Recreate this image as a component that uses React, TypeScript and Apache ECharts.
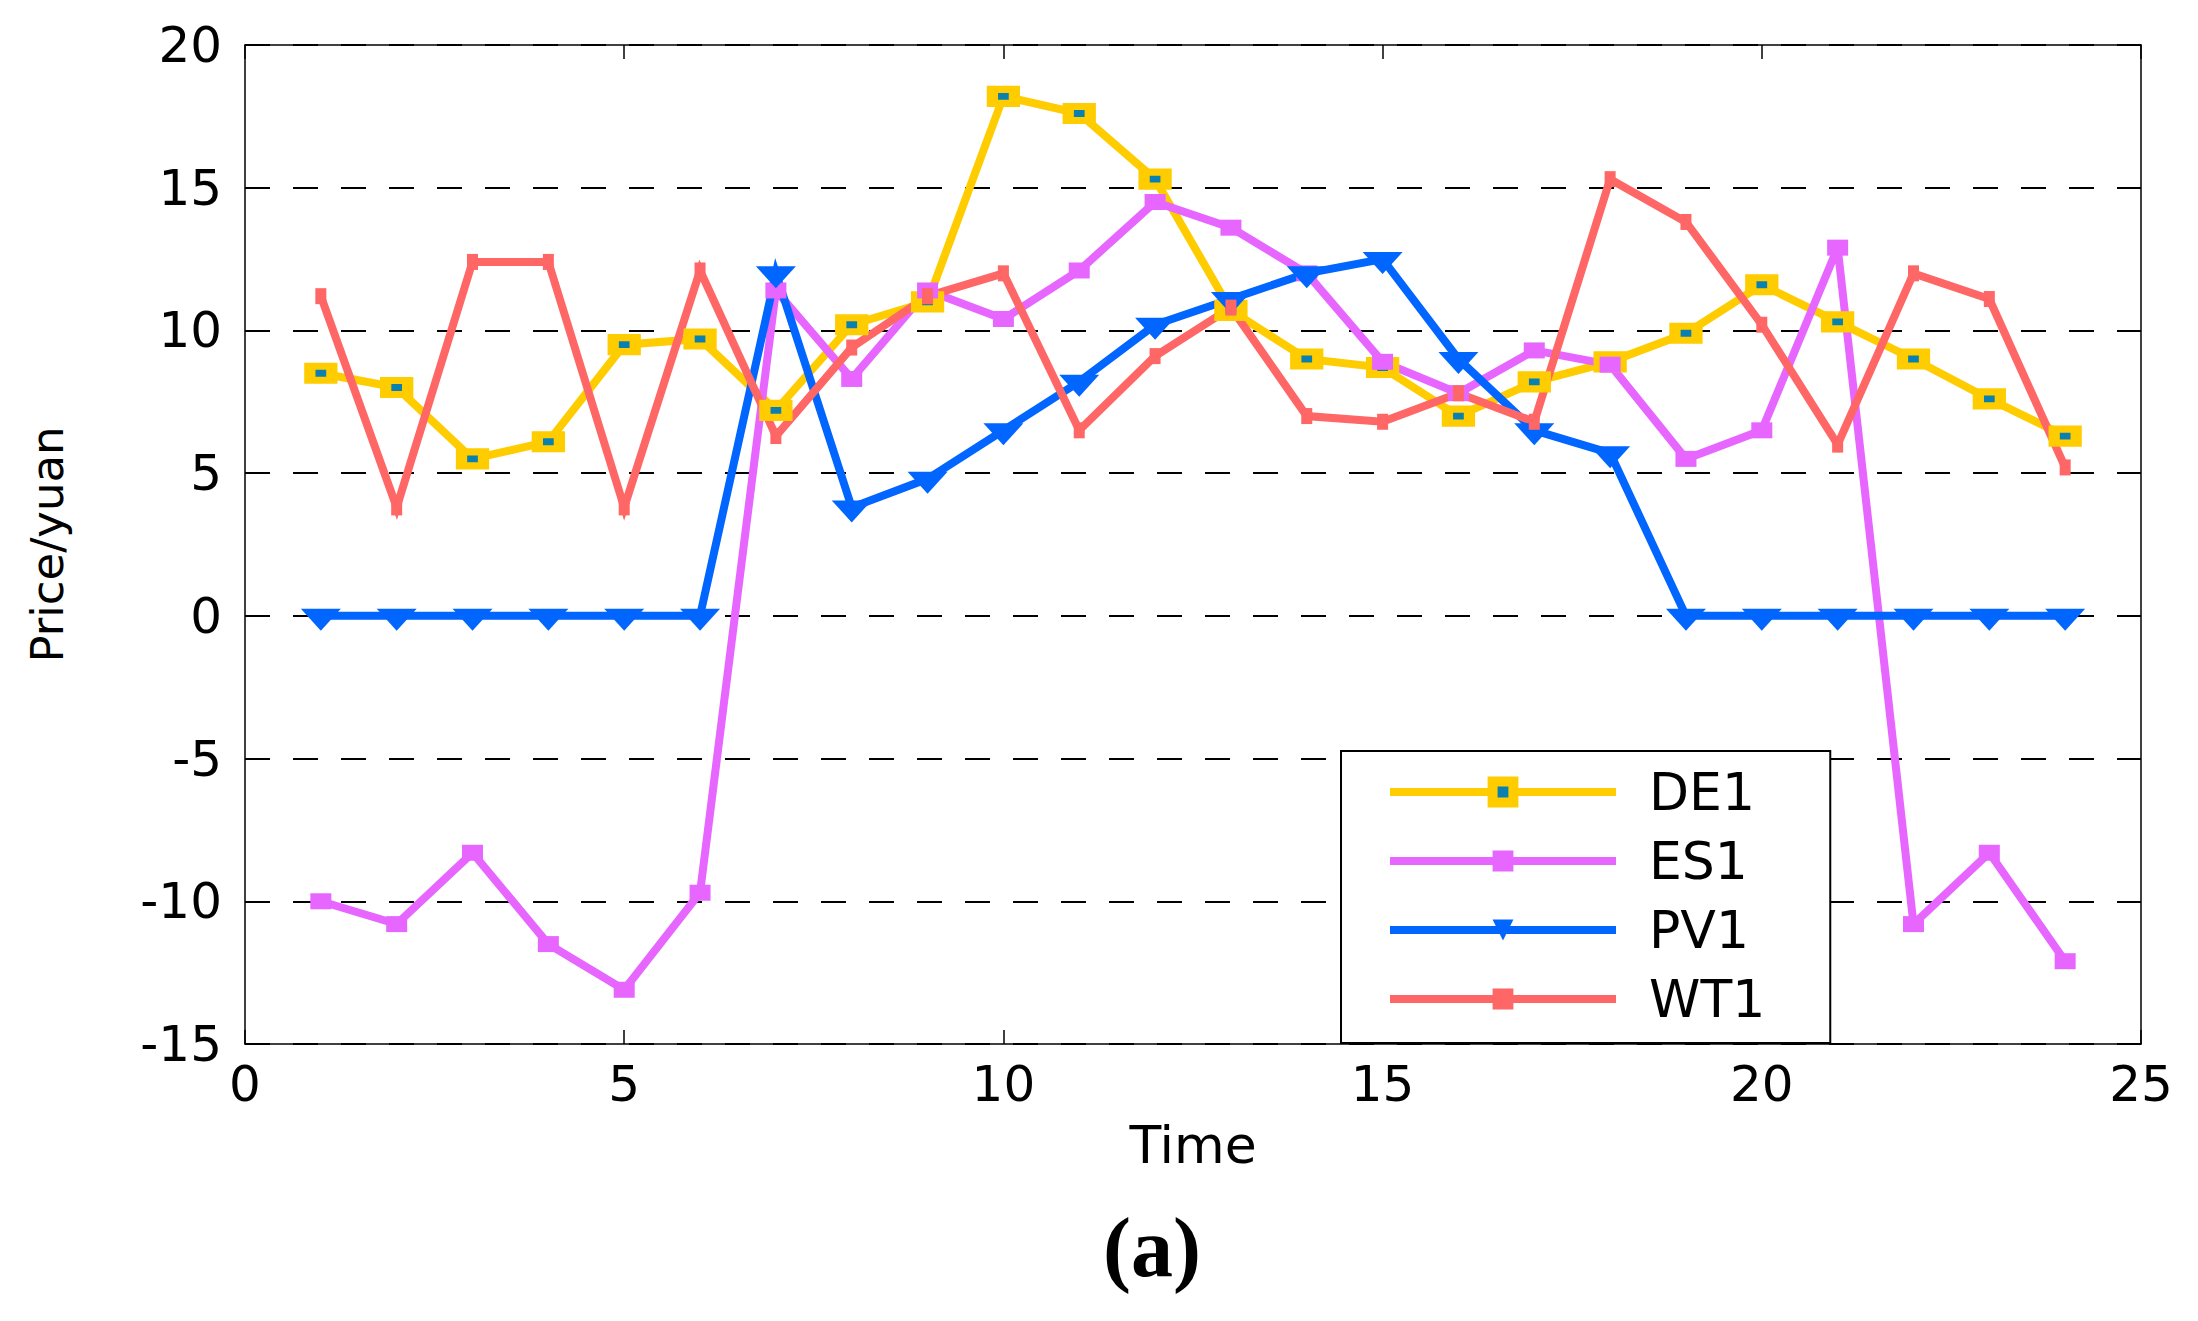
import React, { useEffect, useRef } from "react";
import * as echarts from "echarts";

// ---- data ----
const TIME = [1, 2, 3, 4, 5, 6, 7, 8, 9, 10, 11, 12, 13, 14, 15, 16, 17, 18, 19, 20, 21, 22, 23, 24];
const DE1 = [8.5, 8.0, 5.5, 6.1, 9.5, 9.7, 7.2, 10.2, 11.0, 18.2, 17.6, 15.3, 10.7, 9.0, 8.7, 7.0, 8.2, 8.9, 9.9, 11.6, 10.3, 9.0, 7.6, 6.3];
const ES1 = [-10.0, -10.8, -8.3, -11.5, -13.1, -9.7, 11.4, 8.3, 11.4, 10.4, 12.1, 14.5, 13.6, 12.0, 8.9, 7.8, 9.3, 8.8, 5.5, 6.5, 12.9, -10.8, -8.3, -12.1];
const PV1 = [0, 0, 0, 0, 0, 0, 12.0, 3.8, 4.8, 6.5, 8.2, 10.2, 11.1, 12.0, 12.5, 9.0, 6.5, 5.7, 0, 0, 0, 0, 0, 0];
const WT1 = [11.2, 3.8, 12.4, 12.4, 3.8, 12.1, 6.3, 9.4, 11.2, 12.0, 6.5, 9.1, 10.8, 7.0, 6.8, 7.8, 6.8, 15.3, 13.8, 10.2, 6.0, 12.0, 11.1, 5.2];
const SERIES_NAMES = ["DE1", "ES1", "PV1", "WT1"];
const X_RANGE = [0, 25, 5]; // min, max, interval
const Y_RANGE = [-15, 20, 5];
const X_TITLE = "Time";
const Y_TITLE = "Price/yuan";
const PANEL_LABEL = "(a)";

export default function App() {
  const ref = useRef<HTMLDivElement>(null);

  useEffect(() => {
    if (!ref.current) return;
    const chart = echarts.init(ref.current, null, { renderer: "svg" });
    const font = "DejaVu Sans";
    const pair = (vals: number[]) => TIME.map((t, i) => [t, vals[i]]);
    const frameLine = { show: true, onZero: false, lineStyle: { color: "#000", width: 1.5 } };
    const tick = { show: true, inside: true, length: 14, lineStyle: { color: "#000", width: 1.5 } };
    const lineCommon = {
      type: "line",
      showSymbol: true,
      showAllSymbol: true,
      emphasis: { disabled: true },
      xAxisIndex: 0,
      yAxisIndex: 0,
    };

    chart.setOption({
      animation: false,
      backgroundColor: "#fff",
      grid: { left: 245, right: 57, top: 45, bottom: 277, containLabel: false },
      xAxis: [
        {
          type: "value",
          position: "bottom",
          min: X_RANGE[0],
          max: X_RANGE[1],
          interval: X_RANGE[2],
          axisLine: frameLine,
          axisTick: tick,
          axisLabel: { margin: 15, fontSize: 50, lineHeight: 50, fontFamily: font, color: "#000" },
          splitLine: { show: false },
          name: X_TITLE,
          nameLocation: "middle",
          nameGap: 75,
          nameTextStyle: { fontSize: 52, lineHeight: 52, fontFamily: font, color: "#000" },
        },
        {
          type: "value",
          position: "top",
          min: X_RANGE[0],
          max: X_RANGE[1],
          interval: X_RANGE[2],
          axisLine: frameLine,
          axisTick: tick,
          axisLabel: { show: false },
          splitLine: { show: false },
        },
      ],
      yAxis: [
        {
          type: "value",
          position: "left",
          min: Y_RANGE[0],
          max: Y_RANGE[1],
          interval: Y_RANGE[2],
          axisLine: frameLine,
          axisTick: tick,
          axisLabel: { margin: 23, fontSize: 50, lineHeight: 50, fontFamily: font, color: "#000" },
          splitLine: { show: true, lineStyle: { color: "#000", width: 2, type: [25, 23] } },
          name: Y_TITLE,
          nameLocation: "middle",
          nameRotate: 90,
          nameGap: 176,
          nameTextStyle: { fontSize: 45, lineHeight: 44, fontFamily: font, color: "#000" },
        },
        {
          type: "value",
          position: "right",
          min: Y_RANGE[0],
          max: Y_RANGE[1],
          interval: Y_RANGE[2],
          axisLine: frameLine,
          axisTick: tick,
          axisLabel: { show: false },
          splitLine: { show: false },
        },
      ],
      legend: {
        orient: "vertical",
        left: 1341,
        top: 751,
        padding: [15, 65, 18, 45],
        itemGap: 17,
        itemWidth: 226,
        itemHeight: 26,
        backgroundColor: "#fff",
        borderColor: "#000",
        borderWidth: 2,
        borderRadius: 0,
        selectedMode: false,
        textStyle: { fontSize: 52, lineHeight: 52, fontFamily: font, color: "#000", padding: [0, 0, 0, 28] },
        lineStyle: { width: 8 },
        data: [
          { name: SERIES_NAMES[0], itemStyle: { borderWidth: 10 } },
          { name: SERIES_NAMES[1], itemStyle: { borderWidth: 0 } },
          { name: SERIES_NAMES[2], itemStyle: { borderWidth: 0 } },
          { name: SERIES_NAMES[3], itemStyle: { borderWidth: 0 } },
        ],
      },
      series: [
        {
          ...lineCommon,
          name: SERIES_NAMES[0],
          data: pair(DE1),
          symbol: "rect",
          symbolSize: [22, 14],
          lineStyle: { color: "#FFCC00", width: 8, join: "miter", miterLimit: 10 },
          itemStyle: { color: "#0A80B0", borderColor: "#FFCC00", borderWidth: 9, borderJoin: "miter" },
        },
        {
          ...lineCommon,
          name: SERIES_NAMES[1],
          data: pair(ES1),
          symbol: "rect",
          symbolSize: [21, 16],
          lineStyle: { color: "#E666FF", width: 8, join: "miter", miterLimit: 10 },
          itemStyle: { color: "#E666FF", borderWidth: 0 },
        },
        {
          ...lineCommon,
          name: SERIES_NAMES[2],
          data: pair(PV1),
          symbol: "triangle",
          symbolRotate: 180,
          symbolSize: [40, 22],
          symbolOffset: [0, 4],
          lineStyle: { color: "#0066FF", width: 8, join: "miter", miterLimit: 10 },
          itemStyle: { color: "#0066FF", borderWidth: 0 },
        },
        {
          ...lineCommon,
          name: SERIES_NAMES[3],
          data: pair(WT1),
          symbol: "rect",
          symbolSize: [11, 16],
          lineStyle: { color: "#FF6666", width: 8, join: "miter", miterLimit: 10 },
          itemStyle: { color: "#FF6666", borderWidth: 0 },
        },
      ],
      graphic: [
        {
          type: "text",
          x: 1152,
          y: 1247,
          style: {
            text: PANEL_LABEL,
            fontSize: 84,
            fontWeight: "bold",
            fontFamily: "Liberation Serif",
            fill: "#000",
            align: "center",
            verticalAlign: "middle",
            textAlign: "center",
            textVerticalAlign: "middle",
          },
        },
      ],
    });

    return () => chart.dispose();
  }, []);

  return (
    <div
      ref={ref}
      style={{ position: "fixed", left: 0, top: 0, width: "2198px", height: "1321px", background: "#fff" }}
    />
  );
}
